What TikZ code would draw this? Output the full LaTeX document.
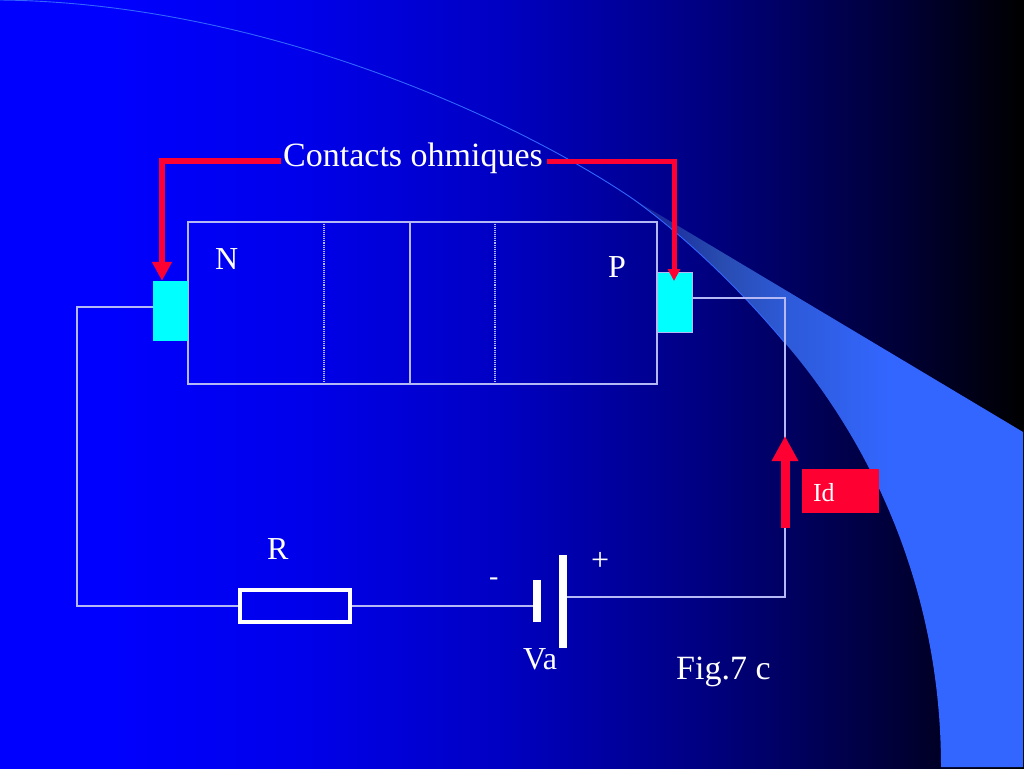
\documentclass[tikz,border=0pt]{standalone}
\usepackage{fontspec}
\setmainfont{Liberation Serif}
\usetikzlibrary{arrows.meta}

\definecolor{wirecol}{RGB}{180,185,245}
\definecolor{contactcol}{RGB}{0,255,255}
\definecolor{redcol}{RGB}{255,0,51}
\definecolor{swooshcol}{RGB}{51,102,255}
\definecolor{bgZ}{RGB}{0,0,235}
\definecolor{bgA}{RGB}{0,0,195}
\definecolor{bgB}{RGB}{0,0,130}
\definecolor{bgC}{RGB}{0,0,55}
\definecolor{wedgeA}{RGB}{20,30,150}
\definecolor{wedgeB}{RGB}{40,75,175}
\definecolor{wedgeC}{RGB}{45,90,215}

\pgfdeclarehorizontalshading{bgshade}{100bp}{
  color(0bp)=(blue); color(30bp)=(blue);
  color(39.6bp)=(bgZ);
  color(49.4bp)=(bgA);
  color(59.2bp)=(bgB);
  color(68.9bp)=(bgC);
  color(75bp)=(black); color(100bp)=(black)}
\pgfdeclarehorizontalshading{wedgeshade}{100bp}{
  color(0bp)=(wedgeA); color(25bp)=(wedgeA);
  color(36bp)=(wedgeB);
  color(44.5bp)=(wedgeC);
  color(58bp)=(swooshcol); color(100bp)=(swooshcol)}

\begin{document}
\begin{tikzpicture}[
  x=1pt, y=-1pt,
  every node/.style={text=white, font=\fontsize{32}{38}\selectfont},
  label/.style={anchor=base west, inner sep=0pt},
  bigtext/.style={label, font=\fontsize{34}{40}\selectfont},
  block/.style={rectangle, inner sep=0pt},
  contact/.style={block, fill=contactcol, minimum width=35pt, minimum height=60pt},
  plate/.style={block, fill=white, minimum width=8pt},
  wire/.style={draw=wirecol, line width=1.1pt},
  redarrow/.style={draw=redcol, line width=6.5pt}
]
\useasboundingbox (0,0) rectangle (1024,768);
\shade[shading=bgshade] (0,0) rectangle (1024,768);

% swoosh
\shade[shading=wedgeshade] (633,199) .. controls (690,240) and (745,295) .. (785,343)
  .. controls (860,430) and (941,575) .. (941,767) -- (1023,767) -- (1023,432) -- cycle;
\draw[swooshcol, line width=0.9pt] (0,0) .. controls (270,3) and (525,125) .. (633,199)
  .. controls (690,240) and (745,295) .. (785,343);

% diode
\node[block, draw=wirecol, line width=1.1pt, minimum width=469pt, minimum height=162pt] (diode) at (422.5,303) {};
\foreach \xpos/\sty in {324/densely dotted, 410/solid, 495/densely dotted}
  \draw[wire, \sty] (\xpos,0 |- diode.north) -- (\xpos,0 |- diode.south);
\node[contact] (contactN) at (170.5,311) {};
\node[contact, draw=wirecol, line width=0.8pt] (contactP) at (674.5,302.5) {};
\node[label] (labelN) at (215,269) {N};
\node[label] (labelP) at (608,277) {P};

% circuit
\node[block, draw=white, line width=4pt, minimum width=110pt, minimum height=32pt] (resistor) at (295,606) {};
\node[plate, minimum height=42pt] (plateNeg) at (537,601) {};
\node[plate, minimum height=93pt] (platePos) at (563,601.5) {};
\coordinate (cornerTL) at (77,307);
\coordinate (cornerBL) at (77,606);
\coordinate (cornerBR) at (785,597);
\coordinate (cornerTR) at (785,298);
\draw[wire] (contactN.west |- cornerTL) -- (cornerTL) -- (cornerBL) -- (resistor.west);
\draw[wire] (resistor.east) -- (plateNeg.west |- resistor.east);
\draw[wire] (platePos.east |- cornerBR) -- (cornerBR) -- (cornerTR) -- (contactP.east |- cornerTR);
\node[label] (labelR) at (267,559) {R};
\node[label] (labelVa) at (523,669) {Va};
\node[label, font=\fontsize{28}{34}\selectfont] (labelMinus) at (489,585) {-};
\node[label] (labelPlus) at (591,570) {+};
\node[bigtext] (figlabel) at (676,679) {Fig.7 c};

% contacts
\node[bigtext] (title) at (283,166) {Contacts ohmiques};
\coordinate (bendN) at (162,161);
\coordinate (bendP) at (674,161);
\draw[redarrow, -{Triangle[length=19pt, width=19pt]}] (281,161) -- (bendN) -- (bendN |- contactN.north);
\draw[redarrow, line width=5pt, -{Triangle[length=12pt, width=12pt]}] (547,161) -- (bendP) -- (bendP |- 0,281);

% current
\coordinate (idStart) at (785,528);
\coordinate (idEnd) at (785,436);
\draw[redarrow, line width=9pt, -{Triangle[length=25pt, width=25pt]}] (idStart) -- (idEnd);
\node[block, fill=redcol, minimum width=77pt, minimum height=44pt, inner xsep=11pt, text width=55pt, text height=20pt, text depth=0pt, align=left, font=\fontsize{26}{30}\selectfont] (idbox) at (840.5,491) {Id};
\end{tikzpicture}
\end{document}
